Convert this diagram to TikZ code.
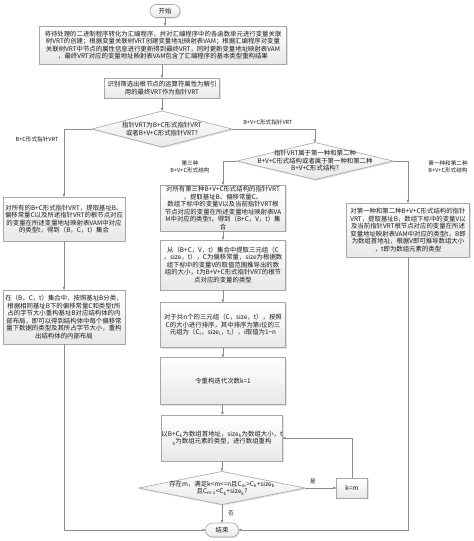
\documentclass[tikz,border=0pt]{standalone}
\usepackage{fontspec}
\setmainfont{Noto Sans CJK SC}
\usetikzlibrary{shapes.geometric,shapes.misc,arrows.meta,shadows}
\newcommand\myfs{\fontsize{6.4pt}{7.5pt}\selectfont}
\newcommand\mylfs{\fontsize{5.6pt}{6.6pt}\selectfont}
\definecolor{linec}{HTML}{8C8C8C}
\definecolor{boxd}{HTML}{A6A6A6}
\definecolor{txtc}{HTML}{1A1A1A}
\begin{document}
\begin{tikzpicture}[x=1pt,y=-1pt,
  base/.style={draw=boxd, line width=0.6pt, top color=white, bottom color=black!9,
    drop shadow={shadow xshift=1.2pt, shadow yshift=-1.2pt, opacity=0.3, fill=black!40},
    text=txtc, font=\myfs, align=center, inner sep=0pt, outer sep=0pt},
  box/.style={base, rectangle},
  dia/.style={base, diamond},
  term/.style={base, rounded rectangle},
  txt/.style={text=txtc, font=\myfs, align=center, inner sep=0pt},
  lbl/.style={text=txtc, font=\mylfs, align=center, inner sep=0pt},
  conn/.style={draw=linec, line width=0.7pt, -{Triangle[length=3.2pt,width=2.6pt]}},
]
\fill[white] (0,0) rectangle (474,541);
\useasboundingbox (0,0) rectangle (474,541);

\node[term, minimum width=30pt, minimum height=13pt] (start) at (165,11) {开始};
\node[box, minimum width=247pt, minimum height=38pt] (b1) at (163,45)
 {将待处理的二进制程序转化为汇编程序，并对汇编程序中的各函数单元进行变量关联\\
  树VRT的创建；根据变量关联树VRT创建变量地址映射表VAM；根据汇编程序对变量\\
  关联树VRT中节点的属性信息进行更新得到最终VRT，同时更新变量地址映射表VAM\\
  ，最终VRT对应的变量地址映射表VAM包含了汇编程序的基本类型重构结果};
\node[box, minimum width=115pt, minimum height=20pt] (b2) at (162,88)
 {识别筛选出根节点的运算符属性为解引\\用的最终VRT作为指针VRT};
\node[dia, minimum width=140pt, minimum height=36pt] (d1) at (162,129) {};
\node[txt] (d1t) at (d1) {指针VRT为B+C形式指针VRT\\或者B+V+C形式指针VRT?};
\node[dia, minimum width=156pt, minimum height=37pt] (d2) at (315,161) {};
\node[txt] (d2t) at (d2) {指针VRT属于第一种和第二种\\B+V+C形式结构或者属于第一种和第二种\\B+V+C形式结构?};

\node[box, minimum width=122pt, minimum height=44pt] (a1) at (64,219)
 {对所有的B+C形式指针VRT，提取基址B、\\
  偏移常量C以及所述指针VRT的根节点对应\\
  的变量在所述变量地址映射表VAM中对应\\
  的类型t，得到（B，C，t）集合};
\node[box, minimum width=122pt, minimum height=54pt] (a2) at (64,317)
 {在（B，C，t）集合中，按照基址B分类，\\
  根据相同基址B下的偏移常量C和类型t所\\
  占的字节大小重构基址B对应结构体的内\\
  部布局，即可以得到结构体中每个偏移常\\
  量下数据的类型及其所占字节大小，重构\\
  出结构体的内部布局};

\node[box, minimum width=125pt, minimum height=46pt] (c1) at (223,208)
 {对所有第三种B+V+C形式结构的指针VRT\\
  ，提取基址B、偏移常量C、\\
  数组下标中的变量V以及当前指针VRT根\\
  节点对应的变量在所述变量地址映射表VA\\
  M中对应的类型t，得到（B+C，V，t）集\\
  合};
\node[box, minimum width=125pt, minimum height=50pt] (c2) at (223,265)
 {从（B+C，V，t）集合中提取三元组（C\\
  ，size，t），C为偏移常量，size为根据数\\
  组下标中的变量V的取值范围推导出的数\\
  组的大小，t为B+V+C形式指针VRT的根节\\
  点对应的变量的类型};
\node[box, minimum width=125pt, minimum height=45pt] (c3) at (223,325)
 {对于共n个的三元组（C，size，t），按照\\
  C的大小进行排序，其中排序为第i位的三\\
  元组为（C\textsubscript{i}，size\textsubscript{i}，t\textsubscript{i}），i取值为1\textasciitilde n};
\node[box, minimum width=125pt, minimum height=47pt] (c4) at (223,381) {令重构迭代次数k=1};
\node[box, minimum width=120pt, minimum height=46pt] (c5) at (222,438)
 {以B+C\textsubscript{k}为数组首地址，size\textsubscript{k}为数组大小，t\\
  \textsubscript{k}为数组元素的类型，进行数组重构};
\node[dia, minimum width=166pt, minimum height=33pt] (g) at (222,488) {};
\node[txt] (gt) at (g) {存在m，满足k<m<=n且C\textsubscript{m}>C\textsubscript{k}+size\textsubscript{k}\\且C\textsubscript{m-1}<C\textsubscript{k}+size\textsubscript{k}?};
\node[box, minimum width=31pt, minimum height=20pt] (km) at (352,488) {k=m};
\node[term, minimum width=33pt, minimum height=14pt] (end) at (222,530) {结束};

\node[box, minimum width=123pt, minimum height=54pt] (r1) at (408,230)
 {对第一种和第二种B+V+C形式结构的指针\\
  VRT，提取基址B，数组下标中的变量V以\\
  及当前指针VRT根节点对应的变量在所述\\
  变量地址映射表VAM中对应的类型t，B即\\
  为数组首地址，根据V即可推导数组大小\\
  ，t即为数组元素的类型};

% labels
\node[lbl] (l1) at (37,139) {B+C形式指针VRT};
\node[lbl] (l2) at (268,122) {B+V+C形式指针VRT};
\node[lbl] (l3) at (190,167) {第三种\\B+V+C形式结构};
\node[lbl] (l4) at (448,167) {第一种和第二种\\B+V+C形式结构};
\node[lbl] (l5) at (313,481) {是};
\node[lbl] (l6) at (231,514) {否};

% connectors
\draw[conn] (start) -- (start |- b1.north);
\draw[conn] (b1.south -| b2) -- (b2.north);
\draw[conn] (b2) -- (d1.north);
\draw[conn] (d1.west) -| (a1.north);
\draw[conn] (d1.east) -| (d2.north);
\draw[conn] (d2.west) -| (c1.north);
\draw[conn] (d2.east) -| (r1.north);
\draw[conn] (a1) -- (a2);
\draw[conn] (a2.south) |- (end.west);
\draw[conn] (c1) -- (c2);
\draw[conn] (c2) -- (c3);
\draw[conn] (c3) -- (c4);
\draw[conn] (c4) -- (c5);
\draw[conn] (c5.south -| g) -- (g.north);
\draw[conn] (g.south) -- (end.north);
\draw[conn] (g.east) -- (km.west);
\draw[conn] (km.north) |- (c5.east);
\draw[conn] (r1.south) |- (end.east);
\end{tikzpicture}
\end{document}
